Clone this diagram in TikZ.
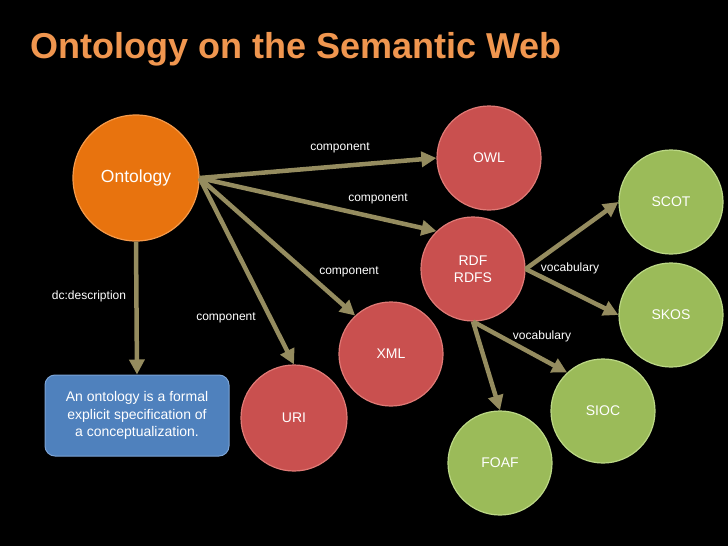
\documentclass[tikz,border=0pt]{standalone}
\usepackage{fontspec}
\setmainfont{Liberation Sans}
\usetikzlibrary{arrows.meta}
\definecolor{bg}{HTML}{000000}
\definecolor{titleor}{HTML}{F0964F}
\definecolor{ontor}{HTML}{E8730E}
\definecolor{ontrim}{HTML}{F59A4A}
\definecolor{redc}{HTML}{C9504F}
\definecolor{redrim}{HTML}{E07A76}
\definecolor{greenc}{HTML}{9BBB59}
\definecolor{greenrim}{HTML}{BCD886}
\definecolor{bluec}{HTML}{4F81BD}
\definecolor{bluerim}{HTML}{7BA3D6}
\definecolor{olive}{HTML}{958C5F}
\tikzset{
  ball/.style={circle, inner sep=0pt, text=white, font=\fontsize{14}{17}\selectfont, align=center},
  redball/.style={ball, fill=redc, draw=redrim, line width=1.2pt, minimum size=104pt},
  greenball/.style={ball, fill=greenc, draw=greenrim, line width=1.2pt, minimum size=104pt},
  ontball/.style={ball, fill=ontor, draw=ontrim, line width=1.2pt, minimum size=126pt, font=\fontsize{17.5}{20}\selectfont},
  descbox/.style={rectangle, rounded corners=10pt, fill=bluec, draw=bluerim, line width=1pt, text=white,
     minimum width=184pt, minimum height=81pt, align=center, font=\fontsize{14}{17.5}\selectfont},
  lab/.style={text=white, font=\fontsize{12}{14}\selectfont, inner sep=0pt},
  conn/.style={draw=olive, line width=4.5pt, -{Triangle[length=15pt,width=15pt]}},
}
\begin{document}
\begin{tikzpicture}[x=1pt,y=-1pt]
\fill[bg] (0,0) rectangle (728,546);
\useasboundingbox (0,0) rectangle (728,546);
\node[anchor=base west, text=titleor, font=\fontsize{36}{40}\selectfont\bfseries, inner sep=0pt] (title) at (30,58) {Ontology on the Semantic Web};

\node[ontball] (ont) at (136,178) {\raisebox{-3pt}{Ontology}};
\node[redball] (owl) at (489,158) {OWL};
\node[redball] (rdf) at (473,269) {RDF\\RDFS};
\node[redball] (xml) at (391,354) {XML};
\node[redball, minimum size=106pt] (uri) at (294,418) {URI};
\node[greenball] (scot) at (671,202) {SCOT};
\node[greenball] (skos) at (671,315) {SKOS};
\node[greenball] (sioc) at (603,411) {SIOC};
\node[greenball] (foaf) at (500,463) {FOAF};
\node[descbox] (desc) at (137,415.5) {An ontology is a formal\\explicit specification of\\a conceptualization.};

\draw[conn] (ont.east) -- (owl.180);
\draw[conn] (ont.east) -- (rdf.134);
\draw[conn] (ont.east) -- (xml.133);
\draw[conn] (ont.east) -- (uri.north);
\draw[conn] (ont.south) -- (desc.north);
\draw[conn] (rdf.east) -- (scot.west);
\draw[conn] (rdf.east) -- (skos.west);
\draw[conn] (rdf.south) -- (sioc.133);
\draw[conn] (rdf.south) -- (foaf.north);

\node[lab] (l1) at (340,148) {component};
\node[lab] (l2) at (378,199) {component};
\node[lab] (l3) at (349,272) {component};
\node[lab] (l4) at (226,318) {component};
\node[lab] (l5) at (89,296) {dc:description};
\node[lab] (l6) at (570,268) {vocabulary};
\node[lab] (l7) at (542,336) {vocabulary};
\end{tikzpicture}
\end{document}
